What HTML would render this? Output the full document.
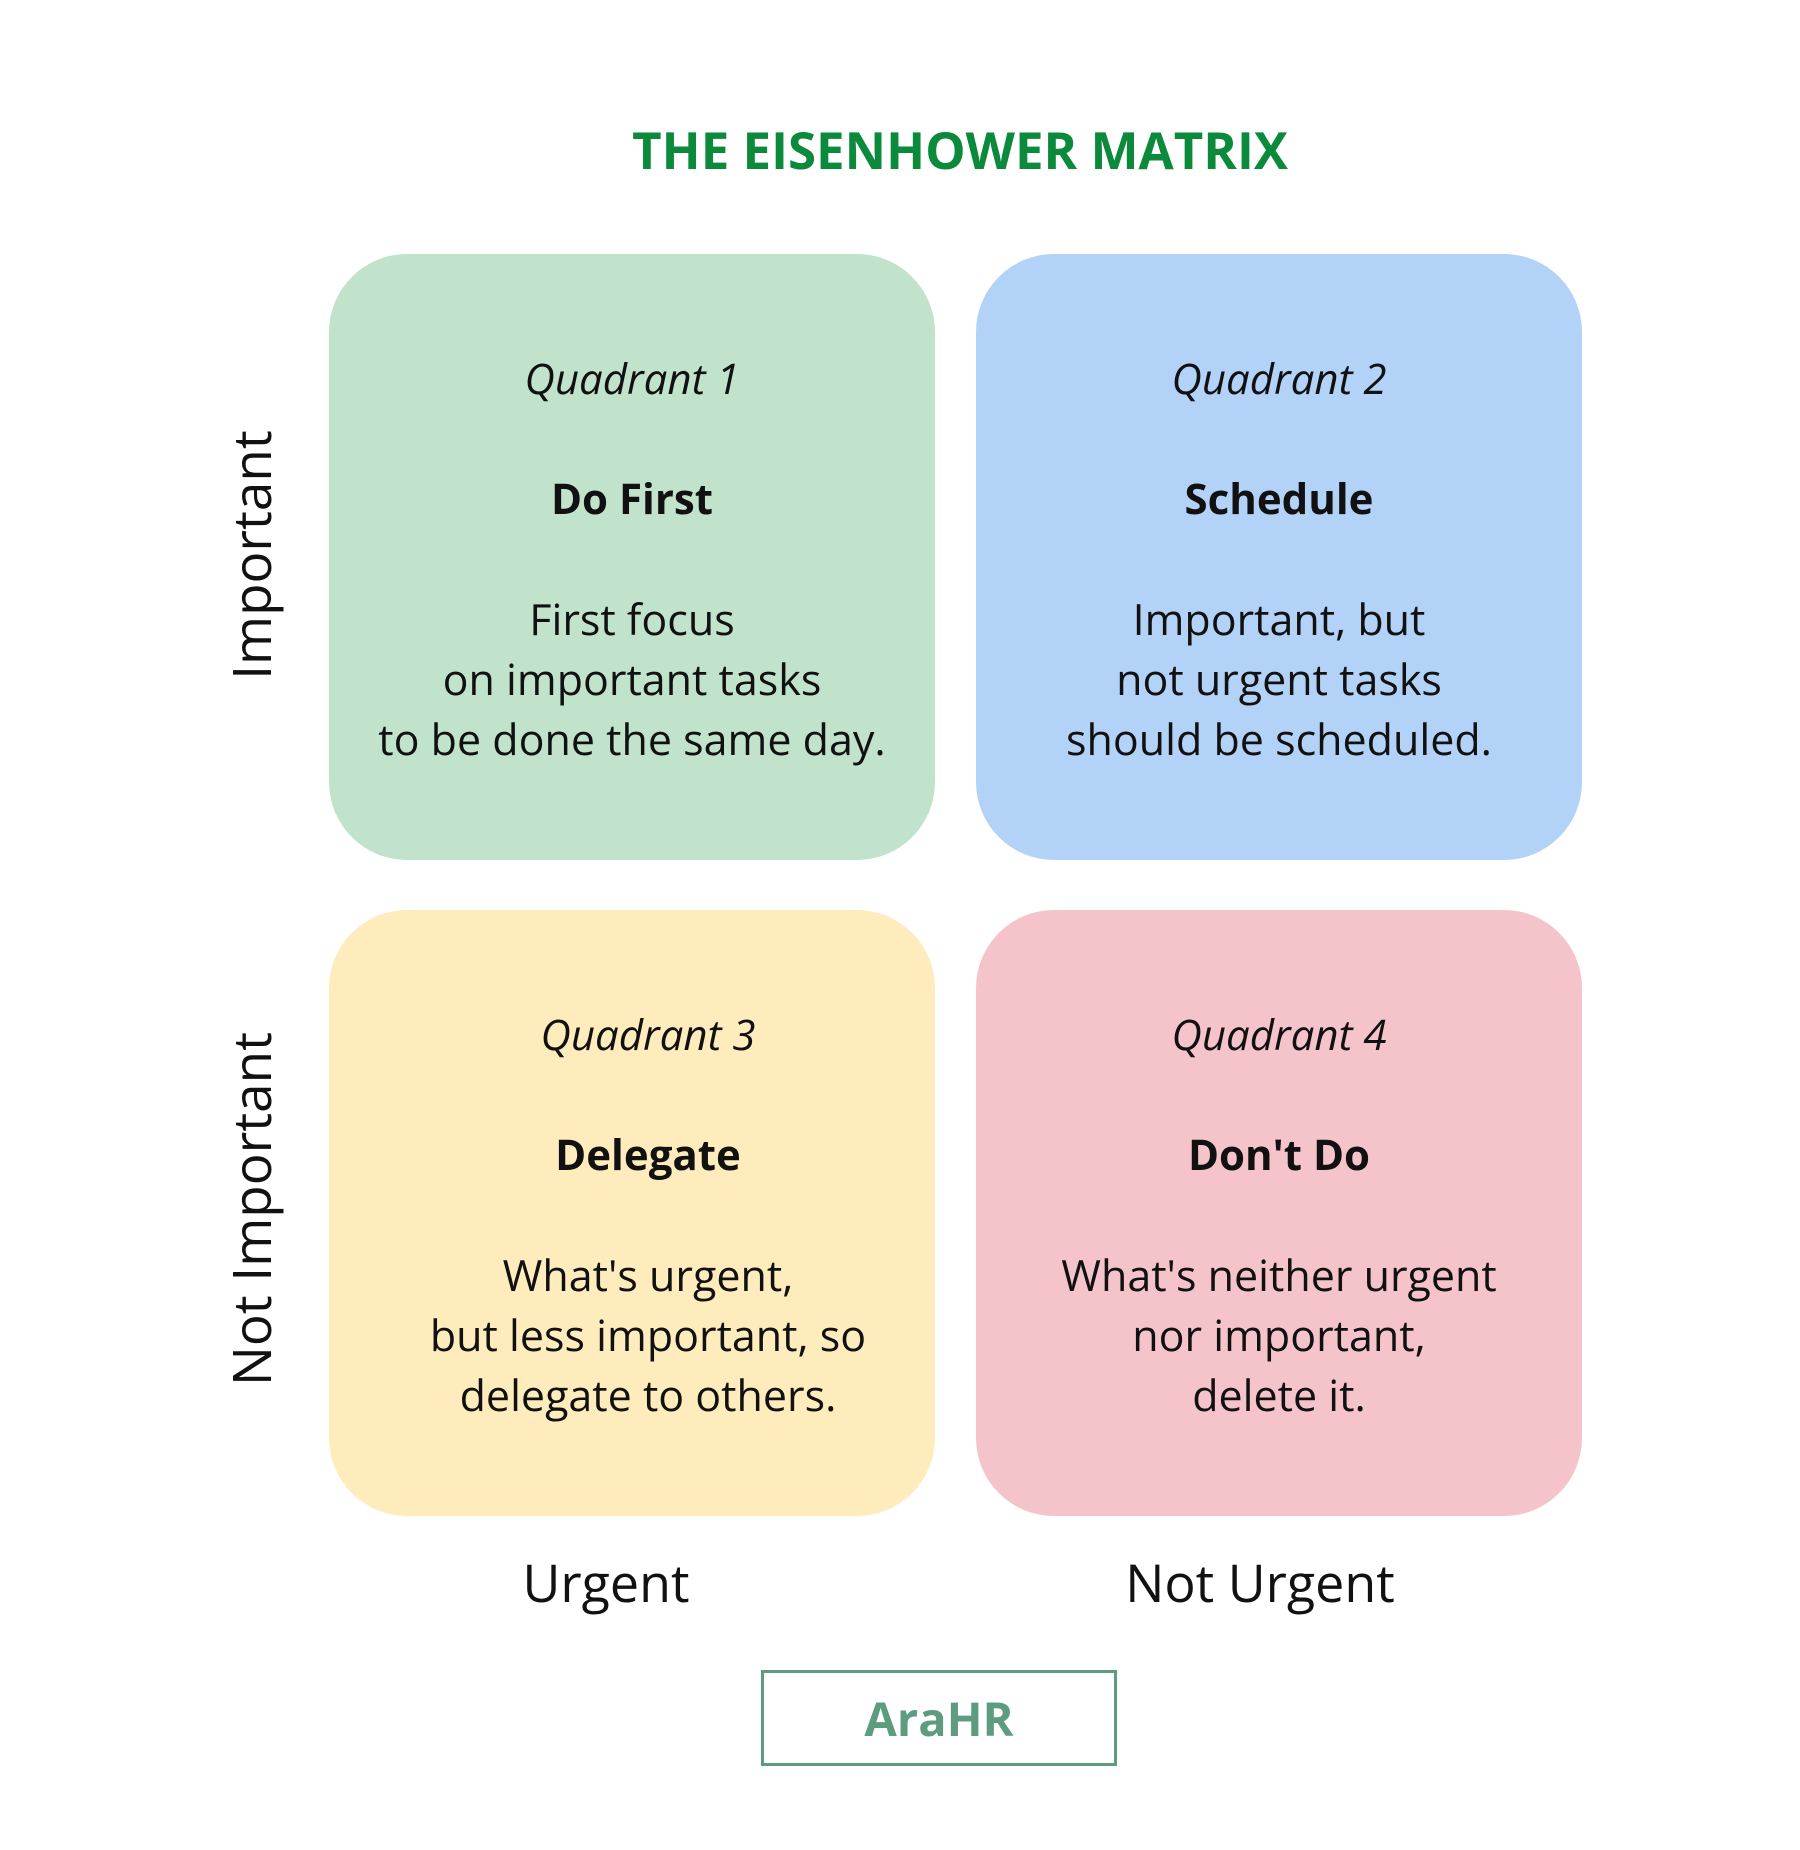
<!DOCTYPE html>
<html><head><meta charset="utf-8"><style>
body{margin:0;width:1800px;height:1850px;background:#fff;position:relative;font-family:"Open Sans","Liberation Sans",sans-serif;color:#111;overflow:hidden}
.a{position:absolute;white-space:nowrap;text-align:center}
.box{position:absolute;width:606px;height:606px;border-radius:78px}
.t{position:absolute;width:606px;left:0;text-align:center;font-size:43px;line-height:60px}
.q{font-style:italic;font-size:42px}
.b{font-weight:bold;font-size:42px}
</style></head><body>
<div class="a b" style="left:0;width:1920px;top:118px;font-size:51px;line-height:62px;color:#0b8a3c">THE EISENHOWER MATRIX</div>

<div class="box" style="left:329px;top:254px;background:#c2e3cb">
<div class="t q" style="top:95px">Quadrant 1</div>
<div class="t b" style="top:215px">Do First</div>
<div class="t" style="top:335px">First focus<br>on important tasks<br>to be done the same day.</div>
</div>
<div class="box" style="left:976px;top:254px;background:#b3d2f7">
<div class="t q" style="top:95px">Quadrant 2</div>
<div class="t b" style="top:215px">Schedule</div>
<div class="t" style="top:335px">Important, but<br>not urgent tasks<br>should be scheduled.</div>
</div>
<div class="box" style="left:329px;top:910px;background:#feecbc">
<div class="t q" style="top:95px;left:16px">Quadrant 3</div>
<div class="t b" style="top:215px;left:16px">Delegate</div>
<div class="t" style="top:335px;left:16px">What's urgent,<br>but less important, so<br>delegate to others.</div>
</div>
<div class="box" style="left:976px;top:910px;background:#f5c4cb">
<div class="t q" style="top:95px">Quadrant 4</div>
<div class="t b" style="top:215px">Don't Do</div>
<div class="t" style="top:335px">What's neither urgent<br>nor important,<br>delete it.</div>
</div>

<div class="a" style="left:51px;top:527px;width:400px;font-size:53px;line-height:56px;transform:rotate(-90deg)">Important</div>
<div class="a" style="left:51px;top:1181px;width:400px;font-size:53px;line-height:56px;transform:rotate(-90deg)">Not Important</div>

<div class="a" style="left:406px;width:400px;top:1555px;font-size:52px;line-height:56px">Urgent</div>
<div class="a" style="left:1060px;width:400px;top:1555px;font-size:52px;line-height:56px">Not Urgent</div>

<div style="position:absolute;left:761px;top:1670px;width:350px;height:90px;border:3px solid #5e9c80;text-align:center;line-height:90px;font-size:47px;font-weight:bold;color:#5e9c80">AraHR</div>
</body></html>
